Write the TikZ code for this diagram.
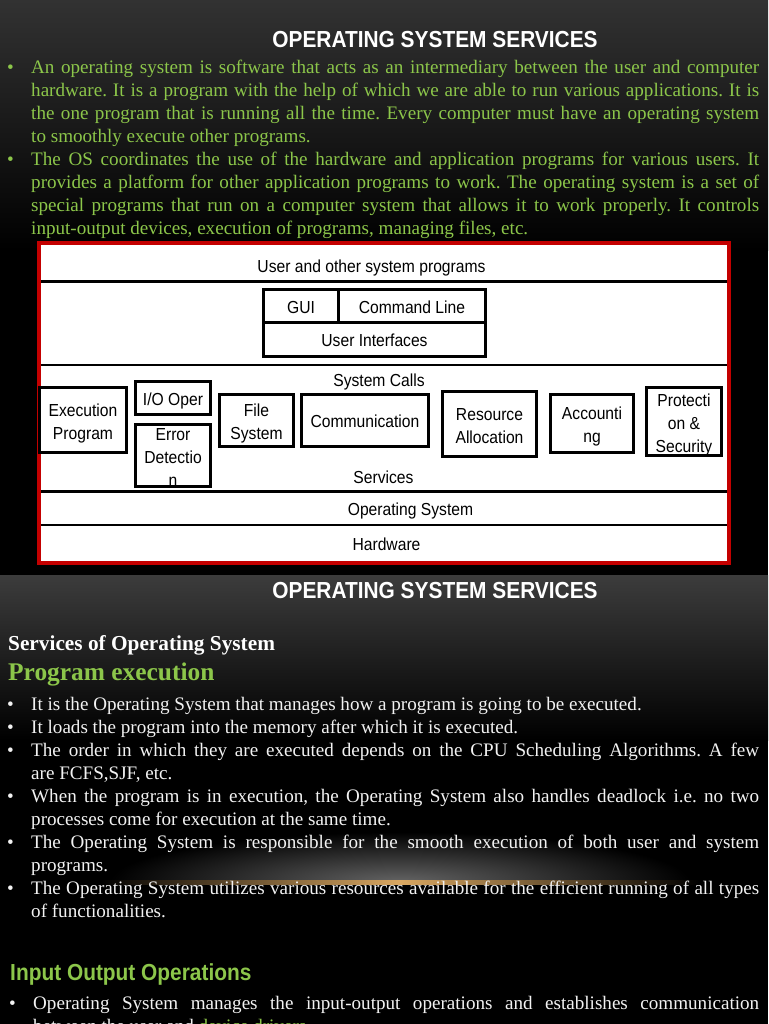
\documentclass[tikz,border=0pt]{standalone}
\usepackage{fontspec}
\setmainfont{Liberation Serif}
\setsansfont[FakeStretch=0.9]{Liberation Sans}
\frenchspacing
\definecolor{slidegreen}{RGB}{140,198,74}
\definecolor{framered}{RGB}{196,0,0}
\definecolor{topgray}{RGB}{50,50,50}
\definecolor{botgray}{RGB}{60,60,60}
\definecolor{glowgray}{RGB}{100,100,100}
\definecolor{glowgold}{RGB}{218,168,98}
\definecolor{paper}{RGB}{242,242,242}

\begin{document}
\begin{tikzpicture}[x=1pt, y=-1pt,
    bodytext/.style={anchor=base west, inner sep=0pt, text width=728pt, align=justify,
        font={\fontsize{19.1}{23}\selectfont\hyphenpenalty10000\tolerance9999\relax}},
    bulletmark/.style={anchor=base west, inner sep=0pt, font={\fontsize{19.1}{23}\selectfont}},
    slidetitle/.style={anchor=base, inner sep=0pt, text=white, font={\sffamily\bfseries\fontsize{23.2}{26}\selectfont}},
    layer/.style={anchor=base, inner sep=0pt, font={\sffamily\fontsize{17.4}{23}\selectfont}},
    svc/.style={draw, line width=2.8pt, inner sep=0pt, align=center, text height=14pt, text depth=0pt,
        font={\sffamily\fontsize{17.4}{23}\selectfont}},
    twolines/.style={text height=38pt},
    threelines/.style={text height=61pt}]

    \useasboundingbox (0,0) rectangle (768,1024);
    \clip (0,0) rectangle (768,1024);

    \shade[top color=topgray, bottom color=black] (0,0) rectangle (768,250);
    \fill[black] (0,250) rectangle (768,575);
    \shade[top color=botgray, bottom color=black] (0,575) rectangle (768,740);
    \fill[black] (0,740) rectangle (768,1024);
    \begin{scope}
        \clip (0,800) rectangle (768,882);
        \shade[inner color=glowgray, outer color=black] (400,882) ellipse (290 and 50);
    \end{scope}
    \shade[left color=black, right color=black, middle color=glowgold] (100,880.5) rectangle (700,884);

    \begin{scope}
        \node[slidetitle] (title1) at (435,48) {OPERATING SYSTEM SERVICES};

        \node[bulletmark, text=slidegreen] (dot1) at (7,74) {\textbullet};
        \node[bodytext, text=slidegreen] (intro1) at (31,74) {An operating system is software that acts as an intermediary between the user and computer\linebreak hardware. It is a program with the help of which we are able to run various applications. It is\linebreak the one program that is running all the time. Every computer must have an operating system\linebreak to smoothly execute other programs.};
        \node[bulletmark, text=slidegreen] (dot2) at (7,166) {\textbullet};
        \node[bodytext, text=slidegreen] (intro2) at (31,166) {The OS coordinates the use of the hardware and application programs for various users. It\linebreak provides a platform for other application programs to work. The operating system is a set of\linebreak special programs that run on a computer system that allows it to work properly. It controls\linebreak input-output devices, execution of programs, managing files, etc.};

        \node[draw=framered, fill=white, line width=4pt, inner sep=0pt,
            minimum width=690pt, minimum height=320pt] (frame) at (384,403) {};
        \draw[line width=3pt] (41,281) -- (727,281);
        \draw[line width=1.5pt] (41,365) -- (727,365);
        \draw[line width=3pt] (41,491) -- (727,491);
        \draw[line width=1.5pt] (41,525) -- (727,525);

        \node[layer] (userprog) at (371.5,272) {User and other system programs};
        \node[svc, minimum width=75.5pt, minimum height=33pt] (gui) at (301,306) {GUI};
        \node[svc, minimum width=146.5pt, minimum height=33pt] (cmdline) at (412,306) {Command Line};
        \node[svc, minimum width=222pt, minimum height=34pt] (ui) at (374.5,339.5) {User Interfaces};

        \node[layer] (syscalls) at (379,386) {System Calls};
        \node[svc, twolines, minimum width=87pt, minimum height=65pt] (exec) at (83,420) {Execution\\Program};
        \node[svc, minimum width=75pt, minimum height=33pt] (ioop) at (173,398) {I/O Oper};
        \node[svc, threelines, minimum width=75pt, minimum height=62pt] (err) at (173,455.5) {Error\\Detectio\\n};
        \node[svc, twolines, minimum width=74pt, minimum height=52pt] (fs) at (256.5,420.5) {File\\System};
        \node[svc, minimum width=127pt, minimum height=52pt] (comm) at (365,420.5) {Communication};
        \node[svc, twolines, minimum width=94pt, minimum height=65pt] (res) at (489.5,424) {Resource\\Allocation};
        \node[svc, twolines, minimum width=83pt, minimum height=58pt] (acct) at (592,423.5) {Accounti\\ng};
        \node[svc, threelines, minimum width=75pt, minimum height=68pt] (prot) at (684,421.5) {Protecti\\on \&\\Security};
        \node[layer] (services) at (383.5,483) {Services};

        \node[layer] (os) at (410.5,515) {Operating System};
        \node[layer] (hw) at (386.5,550) {Hardware};
    \end{scope}

    \begin{scope}
        \node[slidetitle] (title2) at (435,598) {OPERATING SYSTEM SERVICES};
        \node[anchor=base west, inner sep=0pt, text=white, font={\bfseries\fontsize{21.3}{25}\selectfont}] (svchead) at (8,650) {Services of Operating System};
        \node[anchor=base west, inner sep=0pt, text=slidegreen, font={\bfseries\fontsize{25.4}{30}\selectfont}] (progexec) at (8,680) {Program execution};

        \node[bulletmark, text=paper] (dot3) at (7,710) {\textbullet};
        \node[bodytext, text=paper] (pe1) at (31,710) {It is the Operating System that manages how a program is going to be executed.};
        \node[bulletmark, text=paper] (dot4) at (7,733) {\textbullet};
        \node[bodytext, text=paper] (pe2) at (31,733) {It loads the program into the memory after which it is executed.};
        \node[bulletmark, text=paper] (dot5) at (7,756) {\textbullet};
        \node[bodytext, text=paper] (pe3) at (31,756) {The order in which they are executed depends on the CPU Scheduling Algorithms. A few\linebreak are FCFS,SJF, etc.};
        \node[bulletmark, text=paper] (dot6) at (7,802) {\textbullet};
        \node[bodytext, text=paper] (pe4) at (31,802) {When the program is in execution, the Operating System also handles deadlock i.e. no two\linebreak processes come for execution at the same time.};
        \node[bulletmark, text=paper] (dot7) at (7,848) {\textbullet};
        \node[bodytext, text=paper] (pe5) at (31,848) {The Operating System is responsible for the smooth execution of both user and system\linebreak programs.};
        \node[bulletmark, text=paper] (dot8) at (7,894) {\textbullet};
        \node[bodytext, text=paper] (pe6) at (31,894) {The Operating System utilizes various resources available for the efficient running of all types\linebreak of functionalities.};

        \node[anchor=base west, inner sep=0pt, text=slidegreen, font={\sffamily\bfseries\fontsize{23.2}{27}\selectfont}] (iohead) at (10,980.5) {Input Output Operations};
        \node[bulletmark, text=paper] (dot9) at (9,1009.5) {\textbullet};
        \node[bodytext, text=paper, text width=726pt] (io1) at (33,1009.5) {Operating System manages the input-output operations and establishes communication\linebreak between the user and \textcolor{slidegreen}{device drivers}.};
    \end{scope}
\end{tikzpicture}
\end{document}
